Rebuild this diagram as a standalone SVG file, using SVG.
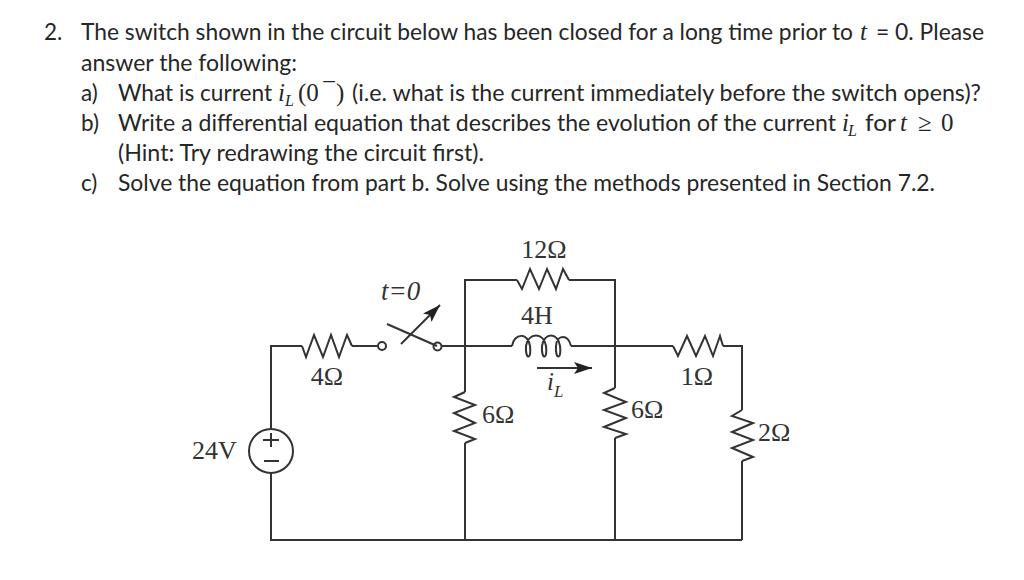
<svg xmlns="http://www.w3.org/2000/svg" width="1024" height="580" viewBox="0 0 1024 580">
<defs>
<marker id="ah" markerUnits="userSpaceOnUse" markerWidth="20" markerHeight="12" refX="18" refY="6" orient="auto"><path d="M0 0L18 6L0 12L4 6Z" fill="#222"/></marker>
</defs>
<style>
.q{font-family:"Lato","Liberation Sans",sans-serif;font-size:22.5px;fill:#262626}
.m{font-family:"Liberation Serif",serif;font-style:italic;font-size:25px;fill:#262626}
.n{font-family:"Liberation Serif",serif;font-size:25px;fill:#262626}
.s{font-family:"Liberation Serif",serif;font-style:italic;font-size:16px;fill:#262626}
.l{font-family:"Liberation Serif",serif;font-size:26px;fill:#333}
.w{fill:none;stroke:#333;stroke-width:2}
</style>
<rect width="1024" height="580" fill="#fff"/>
<g id="question">
<text class="q" x="44" y="40">2.</text>
<text class="q" x="81" y="40" textLength="772" lengthAdjust="spacingAndGlyphs">The switch shown in the circuit below has been closed for a long time prior to</text>
<text class="m" x="860" y="40">t</text>
<text class="q" x="876" y="40" textLength="108" lengthAdjust="spacingAndGlyphs">= 0. Please</text>
<text class="q" x="81" y="71" textLength="216" lengthAdjust="spacingAndGlyphs">answer the following:</text>
<text class="q" x="81" y="101">a)</text>
<text class="q" x="118" y="101" textLength="154" lengthAdjust="spacingAndGlyphs">What is current</text>
<text class="m" x="278" y="101">i</text><text class="s" x="285" y="106">L</text>
<text class="n" x="298" y="101">(0</text><text class="n" x="322" y="90" font-size="15">−</text><text class="n" x="336" y="101">)</text>
<text class="q" x="352" y="101" textLength="629" lengthAdjust="spacingAndGlyphs">(i.e. what is the current immediately before the switch opens)?</text>
<text class="q" x="81" y="131">b)</text>
<text class="q" x="118" y="131" textLength="718" lengthAdjust="spacingAndGlyphs">Write a differential equation that describes the evolution of the current</text>
<text class="m" x="842" y="131">i</text><text class="s" x="848" y="136">L</text>
<text class="q" x="865" y="131" textLength="31" lengthAdjust="spacingAndGlyphs">for</text>
<text class="m" x="900" y="131">t</text>
<text class="n" x="918" y="131">≥</text>
<text class="n" x="941" y="131">0</text>
<text class="q" x="118" y="161" textLength="366" lengthAdjust="spacingAndGlyphs">(Hint: Try redrawing the circuit first).</text>
<text class="q" x="81" y="191">c)</text>
<text class="q" x="118" y="191" textLength="817" lengthAdjust="spacingAndGlyphs">Solve the equation from part b. Solve using the methods presented in Section 7.2.</text>
</g>
<g id="connectors">
<path class="w" d="M271 429V346H302"/>
<path class="w" d="M352 346H377.500"/>
<path class="w" d="M442 346H512"/>
<path class="w" d="M571 346H673"/>
<path class="w" d="M723 346H742V410"/>
<path class="w" d="M465 392V280H517"/>
<path class="w" d="M569 280H615V388"/>
<path class="w" d="M615 438V540"/>
<path class="w" d="M465 443V540"/>
<path class="w" d="M742 461V540"/>
<path class="w" d="M271 473V540H742"/>
</g>
<g id="r12"><path class="w" d="M517 280L522 289L530 269L539 289L547 269L556 289L563 269L569 280"/><text class="l" x="544" y="258" text-anchor="middle">12Ω</text></g>
<g id="l4"><path class="w" d="M512 346C514 333 528 332 530 346C532 360 525 360 526 346C528 332 544 332 546 346C548 360 541 360 542 346C544 332 558 332 560 346C562 360 555 360 556 346C557 334 568 334 571 346"/><text class="l" x="537" y="324" text-anchor="middle">4H</text></g>
<g id="r4"><path class="w" d="M302 346L306 357L314 335L323 357L331 335L339 357L347 335L352 346"/><text class="l" x="327" y="385" text-anchor="middle">4Ω</text></g>
<g id="r1"><path class="w" d="M673 346L678 356L687 336L696 356L705 336L713 356L720 336L723 346"/><text class="l" x="697" y="385" text-anchor="middle">1Ω</text></g>
<g id="r6a"><path class="w" d="M465 392L454 397L475 405L454 413L475 423L454 431L475 439L465 443"/><text class="l" x="482" y="423">6Ω</text></g>
<g id="r6b"><path class="w" d="M615 388L604 393L626 402L604 410L626 418L604 427L626 434L615 438"/><text class="l" x="631" y="418">6Ω</text></g>
<g id="r2"><path class="w" d="M742 410L732 416L753 423L732 432L753 440L732 448L753 457L742 461"/><text class="l" x="758" y="441">2Ω</text></g>
<g id="switch">
<circle class="w" cx="382" cy="346" r="4"/>
<circle class="w" cx="437.500" cy="346.500" r="4"/>
<path class="w" d="M387 324L437 346"/>
<path class="w" d="M401 344L440 305" marker-end="url(#ah)"/>
<text x="381" y="300" font-family="Liberation Serif,serif" font-style="italic" font-size="27" fill="#333">t=0</text>
</g>
<g id="iL">
<path class="w" d="M537 368H592" marker-end="url(#ah)"/>
<text x="547" y="390" font-family="Liberation Serif,serif" font-style="italic" font-size="25" fill="#333">i</text>
<text x="554" y="397" font-family="Liberation Serif,serif" font-style="italic" font-size="17" fill="#333">L</text>
</g>
<g id="source">
<circle class="w" cx="271" cy="451" r="22"/>
<path class="w" d="M263 440H279M271 433V447M264 461H279"/>
<text class="l" x="192" y="459">24V</text>
</g>
</svg>
